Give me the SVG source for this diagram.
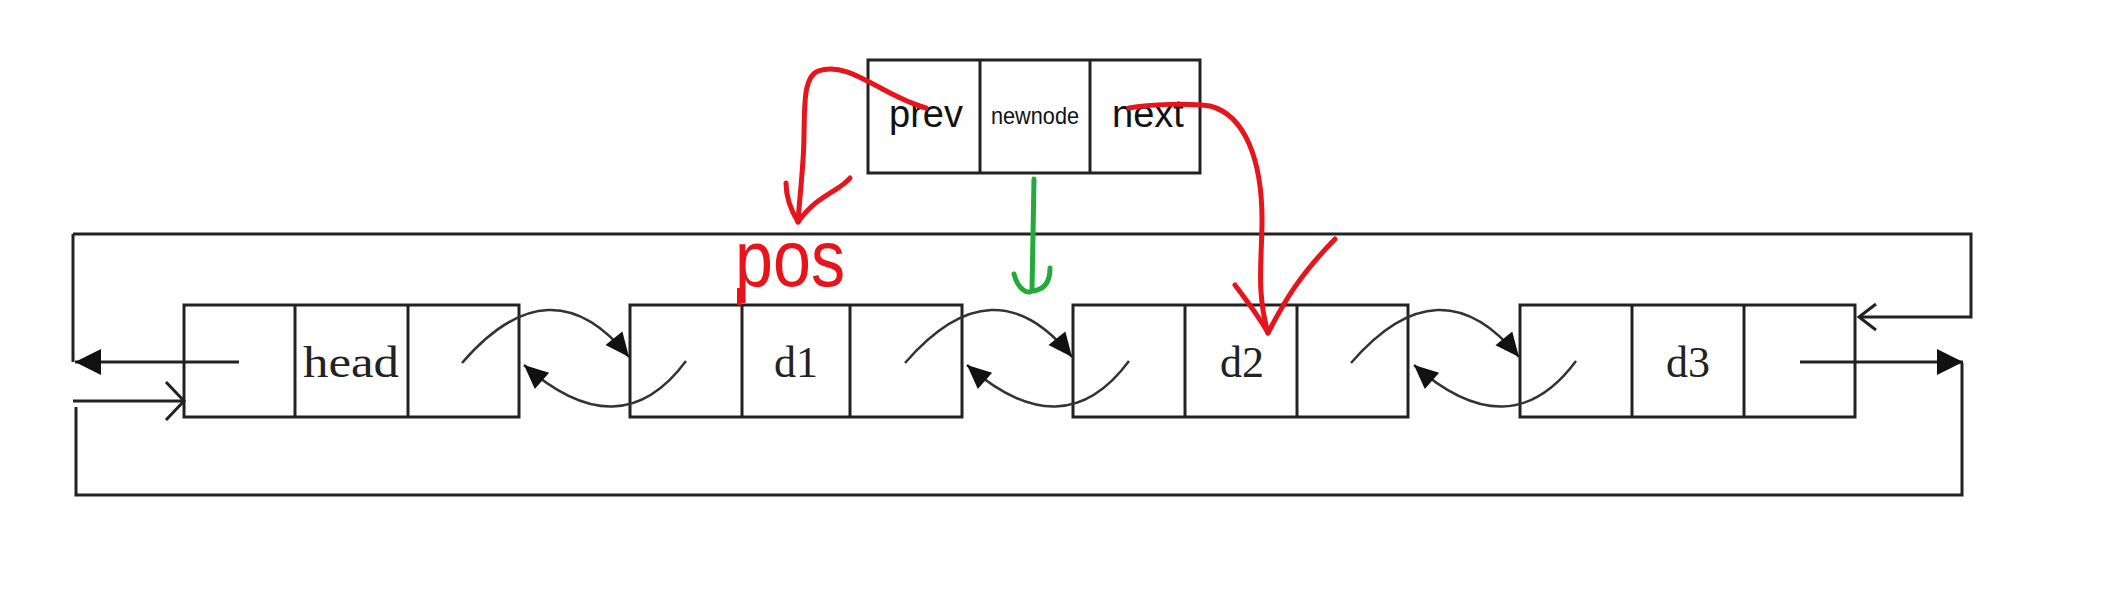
<svg xmlns="http://www.w3.org/2000/svg" width="2118" height="605" viewBox="0 0 2118 605">
<style>
.box{fill:#fff;stroke:#222;stroke-width:3}
.ln{fill:none;stroke:#222;stroke-width:3}
.cv{fill:none;stroke:#333;stroke-width:2.5}
.lbl{font-family:"Liberation Serif",serif;font-size:44px;fill:#222;text-anchor:middle}
.sl{font-family:"Liberation Sans",sans-serif;fill:#111}
.red{fill:none;stroke:#e8141c;stroke-width:5;stroke-linecap:round;stroke-linejoin:round}
.grn{fill:none;stroke:#22aa3a;stroke-width:5;stroke-linecap:round;stroke-linejoin:round}
</style>
<defs>
<marker id="ca" viewBox="0 0 10 10" refX="10" refY="5" markerWidth="34" markerHeight="24" markerUnits="userSpaceOnUse" orient="auto"><path d="M0,0.5L10,5L0,9.5z" fill="#111"/></marker>
<marker id="big" viewBox="0 0 10 10" refX="10" refY="5" markerWidth="36" markerHeight="26" markerUnits="userSpaceOnUse" orient="auto"><path d="M0,0L10,5L0,10z" fill="#111"/></marker>
</defs>
<g id="newnode">
<rect class="box" x="868" y="60" width="332" height="113"/>
<line class="ln" x1="980" y1="60" x2="980" y2="173"/>
<line class="ln" x1="1090" y1="60" x2="1090" y2="173"/>
<text class="sl" x="926" y="127" font-size="38" text-anchor="middle">prev</text>
<text class="sl" x="1035" y="124" font-size="24" text-anchor="middle" textLength="88" lengthAdjust="spacingAndGlyphs">newnode</text>
<text class="sl" x="1148" y="127" font-size="38" text-anchor="middle">next</text>
</g>
<g id="head"><rect class="box" x="184" y="305" width="335" height="112"/><line class="ln" x1="295" y1="305" x2="295" y2="417"/><line class="ln" x1="408" y1="305" x2="408" y2="417"/><text class="lbl" x="351" y="377" textLength="96" lengthAdjust="spacingAndGlyphs">head</text></g>
<g id="d1"><rect class="box" x="630" y="305" width="332" height="112"/><line class="ln" x1="742" y1="305" x2="742" y2="417"/><line class="ln" x1="850" y1="305" x2="850" y2="417"/><text class="lbl" x="796" y="377">d1</text></g>
<g id="d2"><rect class="box" x="1073" y="305" width="335" height="112"/><line class="ln" x1="1185" y1="305" x2="1185" y2="417"/><line class="ln" x1="1297" y1="305" x2="1297" y2="417"/><text class="lbl" x="1242" y="377">d2</text></g>
<g id="d3"><rect class="box" x="1520" y="305" width="335" height="112"/><line class="ln" x1="1632" y1="305" x2="1632" y2="417"/><line class="ln" x1="1744" y1="305" x2="1744" y2="417"/><text class="lbl" x="1688" y="377">d3</text></g>
<g id="connectors">
<path class="ln" d="M73,234H1971V317H1859"/>
<path class="ln" d="M1876,304L1859,317L1876,330"/>
<path class="ln" d="M73,234V362"/>
<line class="ln" x1="239" y1="362" x2="75" y2="362" marker-end="url(#big)"/>
<line class="ln" x1="73" y1="401" x2="184" y2="401"/>
<path class="ln" d="M166,382L184,401L166,420"/>
<path class="ln" d="M76,407V495H1962V363"/>
<line class="ln" x1="1800" y1="362" x2="1963" y2="362" marker-end="url(#big)"/>
<path class="cv" d="M462,363Q551,260 629,357" marker-end="url(#ca)"/>
<path class="cv" d="M686,361Q620,450 524,365" marker-end="url(#ca)"/>
<path class="cv" d="M905,363Q994,260 1072,357" marker-end="url(#ca)"/>
<path class="cv" d="M1129,361Q1063,450 967,365" marker-end="url(#ca)"/>
<path class="cv" d="M1351,363Q1440,260 1519,357" marker-end="url(#ca)"/>
<path class="cv" d="M1576,361Q1510,450 1414,365" marker-end="url(#ca)"/>
<path class="red" d="M926,108C880,95 850,60 818,71C800,78 806,120 803,160C801,190 799,205 798,222"/>
<path class="red" d="M786,183C786,200 792,212 798,222C810,205 822,198 835,190C846,183 850,178 850,178"/>
<text x="790" y="286" font-family="Liberation Sans,sans-serif" font-size="80" fill="#e8141c" text-anchor="middle" textLength="110" lengthAdjust="spacingAndGlyphs">pos</text>
<line x1="739" y1="288" x2="739" y2="305" stroke="#e8141c" stroke-width="4"/>
<path class="grn" d="M1034,179L1032,291"/>
<path class="grn" d="M1014,274C1018,290 1028,294 1032,291C1046,290 1050,280 1050,268"/>
<path class="red" d="M1129,108C1150,104 1190,103 1210,106C1245,115 1262,160 1262,220C1262,260 1256,290 1268,333"/>
<path class="red" d="M1235,285C1250,305 1260,318 1268,333C1285,300 1300,275 1335,239"/>
</g>
</svg>
